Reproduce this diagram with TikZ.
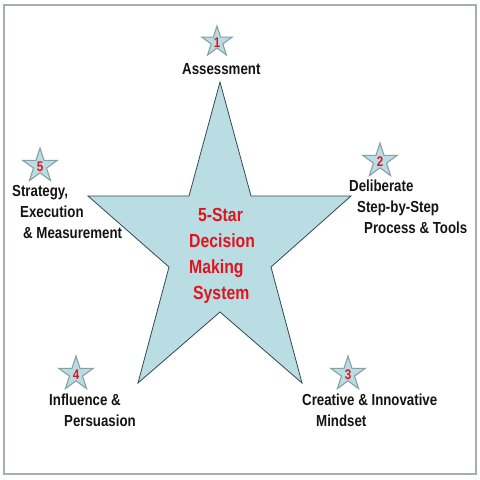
\documentclass[tikz,border=0pt]{standalone}
\usepackage{fontspec}
\usetikzlibrary{shapes.geometric}
\newfontfamily\narrowbold{Liberation Sans Bold}[FakeStretch=0.83]
\definecolor{starfill}{RGB}{185,221,227}
\definecolor{staredge}{RGB}{50,75,80}
\definecolor{smalledge}{RGB}{135,160,168}
\definecolor{framecol}{RGB}{165,175,175}
\definecolor{numred}{RGB}{225,20,30}
\tikzset{
  lbl/.style={inner sep=0pt, anchor=base west, align=left, text=black!92,
    font={\narrowbold\fontsize{16}{21}\selectfont}},
  mainlbl/.style={inner sep=0pt, anchor=base west, align=left, text=numred,
    font={\narrowbold\fontsize{19}{26}\selectfont}},
  smallstar/.style={star, star points=5, star point ratio=2.618, draw=smalledge,
    line width=1.1pt, fill=starfill, inner sep=0pt, minimum size=#1},
  numtxt/.style={inner sep=0pt, text=numred, font={\narrowbold\fontsize{14}{14}\selectfont}}
}
\begin{document}
\begin{tikzpicture}[x=1pt,y=-1pt]
\useasboundingbox (0,0) rectangle (480,480);
\fill[white] (0,0) rectangle (480,480);
\draw[framecol, line width=2pt] (4,5) rectangle (476,474);
% big star
\draw[staredge, line width=0.8pt, fill=starfill]
  (220,82) -- (251,196) -- (351,196) -- (271,267) -- (302,383)
  -- (220,312) -- (138,383) -- (169,267) -- (88,196) -- (189,196) -- cycle;
\node[mainlbl] (main) at (189,299) {\hspace*{9pt}5-Star\\Decision\\Making\\\hspace*{4pt}System};
% small stars
\node[smallstar=32pt] (s1) at (217,42) {};
\node[numtxt] (n1) at (217,43) {1};
\node[smallstar=36pt] (s2) at (380,161) {};
\node[numtxt] (n2) at (380,162) {2};
\node[smallstar=36pt] (s3) at (348,374) {};
\node[numtxt] (n3) at (348,375) {3};
\node[smallstar=36pt] (s4) at (76,374) {};
\node[numtxt] (n4) at (76,375) {4};
\node[smallstar=36pt] (s5) at (40,166) {};
\node[numtxt] (n5) at (40,167) {5};
% labels
\node[lbl] (l1) at (182,74) {Assessment};
\node[lbl] (l2) at (349,233) {Deliberate\\\hspace*{8pt}Step-by-Step\\\hspace*{15pt}Process \& Tools};
\node[lbl] (l3) at (302,426) {Creative \& Innovative\\\hspace*{14pt}Mindset};
\node[lbl] (l4) at (49,426) {Influence \&\\\hspace*{15pt}Persuasion};
\node[lbl] (l5) at (12,238) {Strategy,\\\hspace*{8pt}Execution\\\hspace*{11pt}\& Measurement};
\end{tikzpicture}
\end{document}
